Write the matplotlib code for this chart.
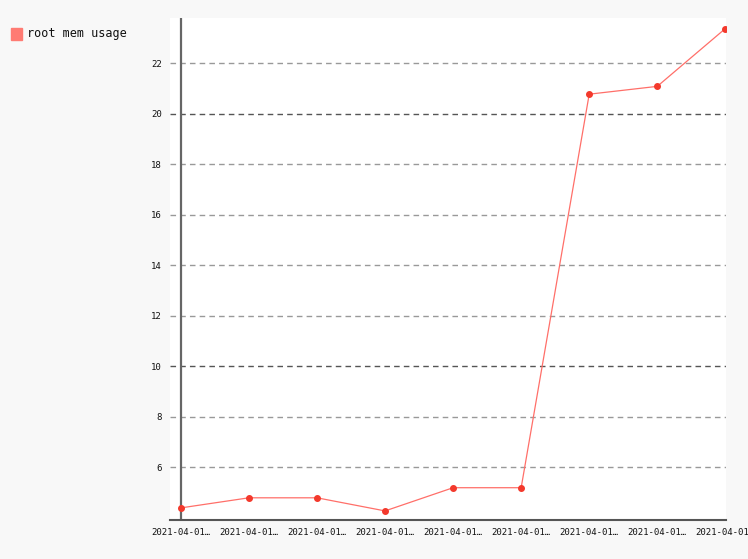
import matplotlib
matplotlib.use('Agg')
from matplotlib import pyplot as plt

labels = ['2021-04-01…'] * 9
mem = [4.38, 4.78, 4.78, 4.26, 5.18, 5.18, 20.78, 21.09, 23.38]
yticks = [6, 8, 10, 12, 14, 16, 18, 20, 22]

fig = plt.figure(figsize=(7.48, 5.59), dpi=100, facecolor='#f8f8f8')
ax = fig.add_axes([170 / 748, 39 / 559, 556 / 748, (520 - 18) / 559])
ax.set_facecolor('white')

x = list(range(len(mem)))
ax.plot(x, mem, color='#ff6f69', lw=0.9, marker='o', ms=4,
        markerfacecolor='#f3392c', markeredgecolor='#f3392c')

ax.set_xlim(-0.16, 8.01)
ax.set_ylim(3.9, 23.8)
ax.set_yticks(yticks)
ax.set_yticklabels([str(t) for t in yticks])
for t in yticks:
    major = t in (10, 20)
    ax.axhline(t, color='#555555' if major else '#999999', lw=1.0,
               ls=(0, (4, 3)), zorder=0)
ax.set_xticks(x)
ax.set_xticklabels(labels)
ax.tick_params(length=0, labelsize=6.5, labelcolor='#111111', pad=6)
for lbl in ax.get_xticklabels() + ax.get_yticklabels():
    lbl.set_family('DejaVu Sans Mono')

for s in ['top', 'right']:
    ax.spines[s].set_visible(False)
ax.spines['left'].set_visible(False)
ax.axvline(0, color='#666666', lw=1.6, zorder=1)
ax.spines['bottom'].set_color('#555555')
ax.spines['bottom'].set_linewidth(1.5)

fig.patches.append(plt.Rectangle((11 / 748, 1 - 40 / 559), 11 / 748, 12 / 559,
                                 transform=fig.transFigure, color='#ff7b73'))
fig.text(27 / 748, 1 - 34 / 559, 'root mem usage', fontsize=8.5,
         family='DejaVu Sans Mono', va='center', color='#111111')

fig.savefig('out.png', dpi=100, facecolor=fig.get_facecolor())
